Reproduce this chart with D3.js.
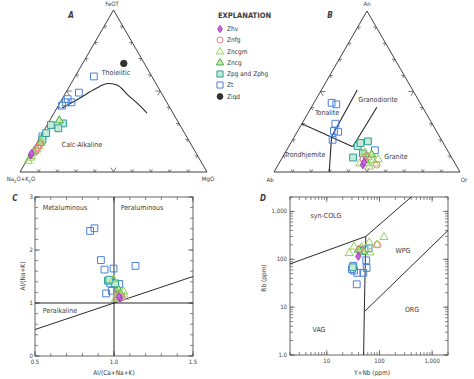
<!DOCTYPE html>
<html><head><meta charset="utf-8">
<script src="https://cdn.jsdelivr.net/npm/d3@7"></script>
<style>
body{margin:0;background:#fff;}
svg text{font-family:"Liberation Sans Narrow","Arial Narrow","DejaVu Sans Condensed","Roboto",sans-serif;fill:#3a3a3a;}
</style></head><body>
<svg id="chart" width="474" height="379"></svg>
<script>
// ---------------- DATA ----------------
const seriesNames = ["Zhv","Znfg","Zncgm","Zncg","Zpg and Zphg","Zt","Ziqd"];

// Panel A (AFM): [Na2O+K2O, FeOT, MgO] (%)
const afmZt   = [[31,59,10],[44,49,7],[52,45,3],[51,43,6],[57,41,2],[54,43,3],[77,22,1]];
const afmZpg  = [[69,29,2],[62,30,8],[66,27,7],[78,20,2],[74,24,2]];
const afmZncg = [[63,32,5],[80,18,2],[86,13,1]];
const afmZncgm= [[92,7,1],[89,10,1],[87,12,1],[84,14,2],[82,16,2],[79,19,2],[90,9,1]];
const afmZnfg = [[85,13,2],[81,17,2],[83,15,2]];
const afmZhv  = [[89,10.5,0.5],[88,11.5,0.5]];
const afmZiqd = [[11,67,22]];
const afmBoundary = [[57.8,39.5,2.7],[45.05,45.7,9.25],[34.3,51.2,14.5],[25.7,54.6,19.7],[21.3,53.7,25],[18.5,47.5,34],[15.9,42,42.1],[13.9,36.4,49.7]];

// Panel B (An-Ab-Or): [An, Ab, Or] (%)
const aaoZt   = [[43,47.5,9.5],[42,45.5,12.5],[30,52,18],[25.5,55,19.5],[25,53,22],[20,58.5,21.5],[13.5,39,47.5]];
const aaoZpg  = [[16,47,37],[18,44.5,37.5],[19,40,41],[9,53,38],[11.5,46.5,42]];
const aaoZncg = [[7.5,47,45.5],[11,42,47]];
const aaoZncgm= [[9.5,44.5,46],[7.5,43,49.5],[8,40,52],[5.5,47.5,47],[3.5,47,49.5],[5.5,51,43.5],[12.5,45,42.5],[5.5,43,51.5]];
const aaoZnfg = [[4.5,42.5,53],[8,48,44],[10,45.5,44.5]];
const aaoZhv  = [[4.5,50,45.5],[6,48.5,45.5]];
const aaoLines = [
  [[50.9,29.8,19.3],[21.9,58.1,20],[0,70.3,29.7]],
  [[30,70,0],[15.7,49.8,34.5]],
  [[40.2,24.6,35.2],[15.7,49.8,34.5]]
];

// Panel C: [Al/(Ca+Na+K), Al/(Na+K)]
const acnkZt   = [[0.849,2.36],[0.876,2.41],[0.917,1.81],[0.940,1.63],[0.997,1.65],[1.136,1.70],[0.976,1.37],[1.033,1.36],[0.950,1.18],[0.986,1.23]];
const acnkZpg  = [[0.961,1.42],[1.007,1.37],[0.97,1.44]];
const acnkZncg = [[1.03,1.25],[1.04,1.18],[1.02,1.15]];
const acnkZncgm= [[0.997,1.45],[1.02,1.2],[1.05,1.15],[1.07,1.12],[1.03,1.1],[1.06,1.22],[1.01,1.08]];
const acnkZnfg = [[1.02,1.13],[1.05,1.10]];
const acnkZhv  = [[1.039,1.09],[1.03,1.12]];
const cXTicks = [0.5,1.0,1.5];
const cYTicks = [0,1,2,3];

// Panel D: [Y+Nb (ppm), Rb (ppm)]
const rbZt   = [[31.8,73],[32.8,58],[37.9,52],[49.3,52],[57,66],[37,30],[56,95],[62,170],[52,160],[30,62]];
const rbZpg  = [[31,68],[45,150]];
const rbZncg = [[49.3,147],[40,160]];
const rbZncgm= [[26.7,136],[32.8,186],[45.9,181],[64,226],[122,294],[66,140],[90,205]];
const rbZnfg = [[42.7,164],[90.9,202]];
const rbZhv  = [[39.6,115]];
const dLines = [
  [[2,80],[55,300],[400,2000]],
  [[55,300],[51.5,8],[50,1]],
  [[51.5,8],[2000,400]]
];
const dXTicks = [10,100,1000];
const dYTicks = [1,10,100,1000];

// ---------------- STYLES ----------------
const sty = {
  "Zhv":  {shape:"diamond", fill:"#c766dc", stroke:"#a040b8"},
  "Znfg": {shape:"circle", fill:"none", stroke:"#ec7f8e"},
  "Zncgm":{shape:"triangle", fill:"none", stroke:"#94d45a"},
  "Zncg": {shape:"triangle", fill:"#cfeaa8", stroke:"#3fae49"},
  "Zpg and Zphg":{shape:"square", fill:"#c6ead2", stroke:"#2a9d9d"},
  "Zt":   {shape:"square", fill:"none", stroke:"#4a80d8"},
  "Ziqd": {shape:"dot", fill:"#333", stroke:"#333"}
};
function symPath(shape){
  switch(shape){
    case "square": return "M-3.4,-3.4H3.4V3.4H-3.4Z";
    case "triangle": return "M0,-4.4L4.1,2.7H-4.1Z";
    case "diamond": return "M0,-4L2.6,0L0,4L-2.6,0Z";
    case "circle": return d3.arc()({innerRadius:0,outerRadius:3.3,startAngle:0,endAngle:2*Math.PI});
    case "dot": return d3.arc()({innerRadius:0,outerRadius:3.2,startAngle:0,endAngle:2*Math.PI});
  }
}

const svg = d3.select("#chart");
const ink = "#2a2a2a";

function drawPoints(g, name, pts, proj){
  const s = sty[name];
  g.selectAll(null).data(pts).enter().append("path")
    .attr("d", symPath(s.shape))
    .attr("transform", d => { const p = proj(d); return `translate(${p[0]},${p[1]})`; })
    .attr("fill", s.fill).attr("stroke", s.stroke).attr("stroke-width", 1);
}

// ---------------- TERNARY HELPERS ----------------
function ternaryPanel(x0, x1, yb, yt){
  const xs = d3.scaleLinear().domain([0,1]).range([x0,x1]);
  const ys = d3.scaleLinear().domain([0,1]).range([yb,yt]);
  const proj = (l,t,r) => { const s=l+t+r; return [xs((r + t/2)/s), ys(t/s)]; };
  return {xs, ys, proj};
}
function drawTriangle(g, T){
  const L = T.proj(1,0,0), Tp = T.proj(0,1,0), R = T.proj(0,0,1);
  g.append("path").attr("d", d3.line()([L,Tp,R,L]) + "Z")
    .attr("fill","none").attr("stroke",ink).attr("stroke-width",0.9);
  const h = Math.sqrt(3)/2;
  const edges = [
    {p:i=>T.proj(1-i,0,i), dirs:[[-0.5,-h],[0.5,-h]]},
    {p:i=>T.proj(1-i,i,0), dirs:[[1,0],[0.5,h]]},
    {p:i=>T.proj(0,1-i,i), dirs:[[-1,0],[-0.5,h]]}
  ];
  edges.forEach(e=>{
    for(let k=1;k<=9;k++){
      const i=k/10, p=e.p(i), len = k===5?5:3;
      const path = `M${p[0]+e.dirs[0][0]*len},${p[1]+e.dirs[0][1]*len}L${p[0]},${p[1]}L${p[0]+e.dirs[1][0]*len},${p[1]+e.dirs[1][1]*len}`;
      g.append("path").attr("d",path).attr("fill","none").attr("stroke","#444").attr("stroke-width",0.7);
    }
  });
}
function label(g, x, y, txt, opts={}){
  const t = g.append("text").attr("x",x).attr("y",y).text(txt)
    .attr("font-size", opts.size||7).attr("text-anchor", opts.anchor||"middle");
  if(opts.bold) t.attr("font-weight","bold");
  if(opts.italic) t.attr("font-style","italic");
  if(opts.rotate) t.attr("transform",`rotate(${opts.rotate},${x},${y})`);
  return t;
}

// ---------------- PANEL A ----------------
const gA = svg.append("g");
const TA = ternaryPanel(20, 207, 172, 10);
drawTriangle(gA, TA);
gA.append("path").datum(afmBoundary.map(d=>TA.proj(d[0],d[1],d[2])))
  .attr("d", d3.line().curve(d3.curveMonotoneX))
  .attr("fill","none").attr("stroke",ink).attr("stroke-width",1.1);
const projA = d => TA.proj(d[0],d[1],d[2]);
drawPoints(gA,"Zt",afmZt,projA);
drawPoints(gA,"Zpg and Zphg",afmZpg,projA);
drawPoints(gA,"Ziqd",afmZiqd,projA);
drawPoints(gA,"Zncg",afmZncg,projA);
drawPoints(gA,"Zncgm",afmZncgm,projA);
drawPoints(gA,"Znfg",afmZnfg,projA);
drawPoints(gA,"Zhv",afmZhv,projA);
label(gA,112,6,"FeOT",{size:6});
const naLab = gA.append("text").attr("x",21).attr("y",181).attr("font-size",6).attr("text-anchor","middle");
naLab.append("tspan").text("Na");
naLab.append("tspan").text("2").attr("font-size",4).attr("dy",1.5);
naLab.append("tspan").text("O+K").attr("dy",-1.5);
naLab.append("tspan").text("2").attr("font-size",4).attr("dy",1.5);
naLab.append("tspan").text("O").attr("dy",-1.5);
label(gA,208,181,"MgO",{size:6});
label(gA,71,18,"A",{size:8,bold:true,italic:true});
label(gA,116,75,"Tholeiitic",{size:7});
label(gA,82,147,"Calc-Alkaline",{size:7});

// ---------------- LEGEND ----------------
const gL = svg.append("g");
label(gL,218,18,"EXPLANATION",{size:7.5,bold:true,anchor:"start"});
const legY = [29,40,51.5,62.5,74,85,96.5];
seriesNames.forEach((n,i)=>{
  const s = sty[n];
  gL.append("path").attr("d",symPath(s.shape)).attr("transform",`translate(220,${legY[i]}) scale(0.9)`)
    .attr("fill",s.fill).attr("stroke",s.stroke).attr("stroke-width",1.1);
  label(gL,227,legY[i]+2.3,n,{size:6.5,anchor:"start"});
});

// ---------------- PANEL B ----------------
const gB = svg.append("g");
const TB = ternaryPanel(274, 460, 172, 11);
drawTriangle(gB, TB);
const projB = d => TB.proj(d[1],d[0],d[2]);
aaoLines.forEach(ln=>{
  gB.append("path").attr("d", d3.line()(ln.map(projB)))
    .attr("fill","none").attr("stroke",ink).attr("stroke-width",1.1);
});
drawPoints(gB,"Zt",aaoZt,projB);
drawPoints(gB,"Zpg and Zphg",aaoZpg,projB);
drawPoints(gB,"Zncg",aaoZncg,projB);
drawPoints(gB,"Zncgm",aaoZncgm,projB);
drawPoints(gB,"Znfg",aaoZnfg,projB);
drawPoints(gB,"Zhv",aaoZhv,projB);
label(gB,367,6,"An",{size:6});
label(gB,270,182,"Ab",{size:6});
label(gB,464,182,"Or",{size:6});
label(gB,330,18,"B",{size:8,bold:true,italic:true});
label(gB,327,115,"Tonalite",{size:7});
label(gB,378,102,"Granodiorite",{size:7});
label(gB,305,157,"Trondhjemite",{size:7});
label(gB,396,159,"Granite",{size:7});

// ---------------- PANEL C ----------------
const gC = svg.append("g");
const xC = d3.scaleLinear().domain([0.5,1.5]).range([35,193]);
const yC = d3.scaleLinear().domain([0,3]).range([356,197]);
gC.append("rect").attr("x",35).attr("y",197).attr("width",158).attr("height",159)
  .attr("fill","none").attr("stroke","#555").attr("stroke-width",0.9);
function innerTicks(g, scale, vals, orient, pos, len){
  vals.forEach(v=>{
    const p = scale(v);
    let d;
    if(orient==="left") d=`M${pos},${p}h${len}`;
    if(orient==="right") d=`M${pos},${p}h${-len}`;
    if(orient==="bottom") d=`M${p},${pos}v${-len}`;
    if(orient==="top") d=`M${p},${pos}v${len}`;
    g.append("path").attr("d",d).attr("stroke","#555").attr("stroke-width",0.7);
  });
}
const cYminor = d3.range(0,3.001,0.2), cXminor = d3.range(0.5,1.501,0.1);
innerTicks(gC,yC,cYminor,"left",35,3); innerTicks(gC,yC,cYminor,"right",193,3);
innerTicks(gC,yC,cYTicks,"left",35,5); innerTicks(gC,yC,cYTicks,"right",193,5);
innerTicks(gC,xC,cXminor,"top",197,3); innerTicks(gC,xC,cXminor,"bottom",356,3);
innerTicks(gC,xC,cXTicks,"top",197,5); innerTicks(gC,xC,cXTicks,"bottom",356,5);
cYTicks.forEach(v=>label(gC,33,yC(v)+2,String(v),{size:6,anchor:"end"}));
cXTicks.forEach(v=>label(gC,xC(v),364,v.toFixed(1),{size:6}));
const cl = (a,b)=>gC.append("path").attr("d",d3.line()([a,b])).attr("stroke",ink).attr("stroke-width",1).attr("fill","none");
cl([xC(1),yC(0)],[xC(1),yC(3)]);
cl([xC(0.5),yC(1)],[xC(1.5),yC(1)]);
cl([xC(0.5),yC(0.5)],[xC(1.5),yC(1.5)]);
const projC = d=>[xC(d[0]),yC(d[1])];
drawPoints(gC,"Zt",acnkZt,projC);
drawPoints(gC,"Zpg and Zphg",acnkZpg,projC);
drawPoints(gC,"Zncg",acnkZncg,projC);
drawPoints(gC,"Zncgm",acnkZncgm,projC);
drawPoints(gC,"Znfg",acnkZnfg,projC);
drawPoints(gC,"Zhv",acnkZhv,projC);
label(gC,15,201,"C",{size:8,bold:true,italic:true});
label(gC,65,210,"Metaluminous",{size:7});
label(gC,142,210,"Peraluminous",{size:7});
label(gC,60,313,"Peralkaline",{size:7});
label(gC,114,375,"Al/(Ca+Na+K)",{size:6.5});
label(gC,25,276,"Al/(Na+K)",{size:6.5,rotate:-90});

// ---------------- PANEL D ----------------
const gD = svg.append("g");
const xD = d3.scaleLog().domain([2,2000]).range([290,448]);
const yD = d3.scaleLog().domain([1,2000]).range([355,197]);
gD.append("rect").attr("x",290).attr("y",197).attr("width",158).attr("height",158)
  .attr("fill","none").attr("stroke","#555").attr("stroke-width",0.9);
const dXminor = xD.ticks(30).filter(v=>v>=2&&v<=2000);
const dYminor = yD.ticks(30).filter(v=>v>=1&&v<=2000);
innerTicks(gD,yD,dYminor,"left",290,3); innerTicks(gD,yD,dYminor,"right",448,3);
innerTicks(gD,yD,dYTicks,"left",290,5); innerTicks(gD,yD,dYTicks,"right",448,5);
innerTicks(gD,xD,dXminor,"top",197,3); innerTicks(gD,xD,dXminor,"bottom",355,3);
innerTicks(gD,xD,dXTicks,"top",197,5); innerTicks(gD,xD,dXTicks,"bottom",355,5);
const fmtD = v => v===1?"1.0":d3.format(",")(v);
dYTicks.forEach(v=>label(gD,287,yD(v)+2,fmtD(v),{size:6,anchor:"end"}));
dXTicks.forEach(v=>label(gD,xD(v),363,fmtD(v),{size:6}));
dLines.forEach(ln=>{
  gD.append("path").attr("d",d3.line()(ln.map(d=>[xD(d[0]),yD(d[1])])))
    .attr("fill","none").attr("stroke",ink).attr("stroke-width",1);
});
const projD = d=>[xD(d[0]),yD(d[1])];
drawPoints(gD,"Zt",rbZt,projD);
drawPoints(gD,"Zpg and Zphg",rbZpg,projD);
drawPoints(gD,"Zncg",rbZncg,projD);
drawPoints(gD,"Zncgm",rbZncgm,projD);
drawPoints(gD,"Znfg",rbZnfg,projD);
drawPoints(gD,"Zhv",rbZhv,projD);
label(gD,263,201,"D",{size:8,bold:true,italic:true});
label(gD,326,218,"syn-COLG",{size:7});
label(gD,403,253,"WPG",{size:7});
label(gD,412,312,"ORG",{size:7});
label(gD,319,332,"VAG",{size:7});
label(gD,372,375,"Y+Nb (ppm)",{size:6.5});
label(gD,266,278,"Rb (ppm)",{size:6.5,rotate:-90});
</script>
</body></html>
